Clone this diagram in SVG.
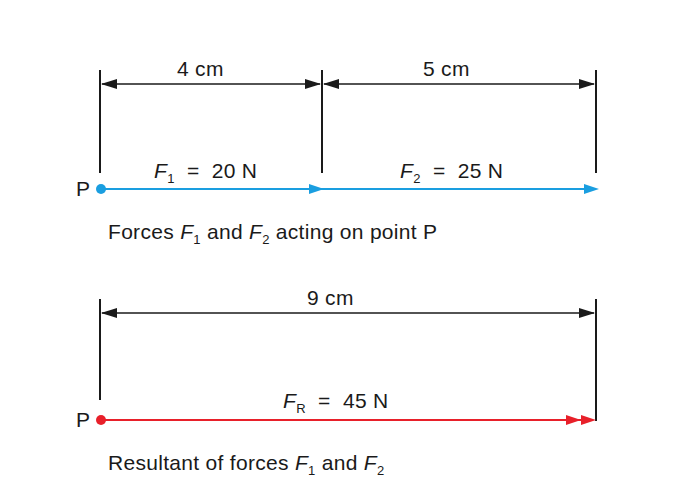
<svg xmlns="http://www.w3.org/2000/svg" width="689" height="498" viewBox="0 0 689 498">
<style>
text{font-family:"Liberation Sans",Arial,sans-serif;font-size:21px;letter-spacing:0.3px;fill:#1a1a1a}
.s{font-size:13px}
.k{stroke:#1a1a1a;stroke-width:2;fill:none}
.d{stroke:#1a1a1a;stroke-width:1.5}
</style>
<rect width="689" height="498" fill="#fff"/>
<g id="connectors">
<line class="k" x1="100" y1="70" x2="100" y2="173"/>
<line class="k" x1="322" y1="70" x2="322" y2="173"/>
<line class="k" x1="596" y1="70" x2="596" y2="173"/>
<line class="d" x1="102" y1="84" x2="320" y2="84"/>
<polygon points="101,84 117,79 117,89" fill="#1a1a1a"/>
<polygon points="321,84 305,79 305,89" fill="#1a1a1a"/>
<line class="d" x1="324" y1="84" x2="594" y2="84"/>
<polygon points="323,84 339,79 339,89" fill="#1a1a1a"/>
<polygon points="595,84 579,79 579,89" fill="#1a1a1a"/>
<line x1="101" y1="189" x2="590" y2="189" stroke="#1a9ee0" stroke-width="2"/>
<polygon points="324,189 309,184 309,194" fill="#1a9ee0"/>
<polygon points="599,189 584,184 584,194" fill="#1a9ee0"/>
<line class="k" x1="100" y1="299" x2="100" y2="400"/>
<line class="k" x1="596" y1="299" x2="596" y2="421"/>
<line class="d" x1="102" y1="313" x2="594" y2="313"/>
<polygon points="101,313 117,308 117,318" fill="#1a1a1a"/>
<polygon points="595,313 579,308 579,318" fill="#1a1a1a"/>
<line x1="101" y1="420" x2="590" y2="420" stroke="#e8202a" stroke-width="2"/>
<polygon points="581,420 566,415 566,425" fill="#e8202a"/>
<polygon points="596,420 581,415 581,425" fill="#e8202a"/>
</g>
<g id="P1"><circle cx="101" cy="189" r="5" fill="#1a9ee0"/><text x="76" y="196">P</text></g>
<g id="P2"><circle cx="101" cy="420" r="5" fill="#e8202a"/><text x="76" y="427">P</text></g>
<g id="labels">
<text x="177" y="76">4 cm</text>
<text x="423" y="76">5 cm</text>
<text x="307" y="305">9 cm</text>
<text x="154" y="178" xml:space="preserve"><tspan font-style="italic">F</tspan><tspan class="s" dy="5">1</tspan><tspan dy="-5">  =  20 N</tspan></text>
<text x="400" y="178" xml:space="preserve"><tspan font-style="italic">F</tspan><tspan class="s" dy="5">2</tspan><tspan dy="-5">  =  25 N</tspan></text>
<text x="283" y="408" xml:space="preserve"><tspan font-style="italic">F</tspan><tspan class="s" dy="5">R</tspan><tspan dy="-5">  =  45 N</tspan></text>
<text x="108" y="239">Forces <tspan font-style="italic">F</tspan><tspan class="s" dy="5">1</tspan><tspan dy="-5"> and </tspan><tspan font-style="italic">F</tspan><tspan class="s" dy="5">2</tspan><tspan dy="-5"> acting on point P</tspan></text>
<text x="108" y="470">Resultant of forces <tspan font-style="italic">F</tspan><tspan class="s" dy="5">1</tspan><tspan dy="-5"> and </tspan><tspan font-style="italic">F</tspan><tspan class="s" dy="5">2</tspan></text>
</g>
</svg>
